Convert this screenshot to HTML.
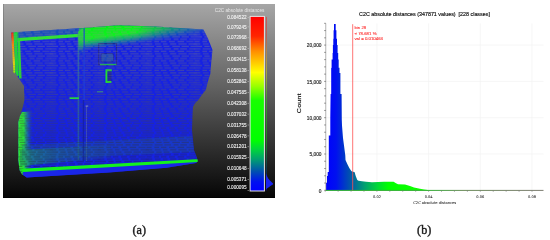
<!DOCTYPE html>
<html><head><meta charset="utf-8"><title>C2C absolute distances</title>
<style>html,body{margin:0;padding:0;background:#fff;width:550px;height:240px;overflow:hidden}svg{display:block}</style>
</head><body><svg width="550" height="240" viewBox="0 0 550 240"><defs><linearGradient id="bgA" x1="0" y1="0" x2="0" y2="1"><stop offset="0" stop-color="#a6a6a6"/><stop offset="1" stop-color="#050505"/></linearGradient><linearGradient id="cbar" x1="0" y1="1" x2="0" y2="0"><stop offset="0" stop-color="#0000ff"/><stop offset="0.05" stop-color="#0010f0"/><stop offset="0.11" stop-color="#0050b0"/><stop offset="0.18" stop-color="#00a070"/><stop offset="0.24" stop-color="#00d838"/><stop offset="0.29" stop-color="#00ff00"/><stop offset="0.52" stop-color="#18ff00"/><stop offset="0.6" stop-color="#98ff00"/><stop offset="0.68" stop-color="#ffff00"/><stop offset="0.8" stop-color="#ff9000"/><stop offset="0.89" stop-color="#ff2400"/><stop offset="1" stop-color="#ff0000"/></linearGradient><linearGradient id="hgrad" gradientUnits="userSpaceOnUse" x1="325.2" y1="0" x2="543.5" y2="0"><stop offset="0" stop-color="#0000ff"/><stop offset="0.05" stop-color="#0010f0"/><stop offset="0.11" stop-color="#0050b0"/><stop offset="0.18" stop-color="#00a070"/><stop offset="0.24" stop-color="#00d838"/><stop offset="0.29" stop-color="#00ff00"/><stop offset="0.52" stop-color="#18ff00"/><stop offset="0.6" stop-color="#98ff00"/><stop offset="0.68" stop-color="#ffff00"/><stop offset="0.8" stop-color="#ff9000"/><stop offset="0.89" stop-color="#ff2400"/><stop offset="1" stop-color="#ff0000"/></linearGradient><linearGradient id="topg" gradientUnits="userSpaceOnUse" x1="100" y1="22" x2="103.81" y2="51.76"><stop offset="0" stop-color="#00f010"/><stop offset="0.5" stop-color="#10f020"/><stop offset="0.65" stop-color="#10c060" stop-opacity="0.85"/><stop offset="0.78" stop-color="#1080a0" stop-opacity="0.5"/><stop offset="0.9" stop-color="#1a3ad8" stop-opacity="0"/></linearGradient><linearGradient id="topmaskg" gradientUnits="userSpaceOnUse" x1="135" y1="0" x2="205" y2="0"><stop offset="0" stop-color="#fff"/><stop offset="0.5" stop-color="#fff" stop-opacity="0.6"/><stop offset="1" stop-color="#fff" stop-opacity="0.3"/></linearGradient><mask id="topmask" maskUnits="userSpaceOnUse" x="0" y="0" width="550" height="240"><rect x="0" y="0" width="550" height="240" fill="url(#topmaskg)"/></mask><linearGradient id="leftstrip" x1="0" y1="0" x2="0" y2="1"><stop offset="0" stop-color="#ff2000"/><stop offset="0.3" stop-color="#ff8800"/><stop offset="0.75" stop-color="#f0e000"/><stop offset="1" stop-color="#90f000"/></linearGradient><linearGradient id="lowleft" gradientUnits="userSpaceOnUse" x1="18" y1="0" x2="33" y2="0"><stop offset="0" stop-color="#30f030"/><stop offset="0.38" stop-color="#28d840"/><stop offset="0.62" stop-color="#20a070" stop-opacity="0.6"/><stop offset="1" stop-color="#1a3ad8" stop-opacity="0"/></linearGradient><linearGradient id="lowband" gradientUnits="userSpaceOnUse" x1="20" y1="0" x2="110" y2="0"><stop offset="0" stop-color="#20b060" stop-opacity="0.7"/><stop offset="0.4" stop-color="#1a8080" stop-opacity="0.45"/><stop offset="1" stop-color="#1a5a9a" stop-opacity="0.2"/></linearGradient><pattern id="tex" patternUnits="userSpaceOnUse" width="48" height="9.6"><rect width="48" height="9.6" fill="#ffffff"/><rect x="1.81" y="0.30" width="6.74" height="1.15" fill="#aaaaaa"/><rect x="-46.19" y="0.30" width="6.74" height="1.15" fill="#aaaaaa"/><rect x="10.73" y="0.30" width="7.92" height="1.15" fill="#a2a2a2"/><rect x="-37.27" y="0.30" width="7.92" height="1.15" fill="#a2a2a2"/><rect x="20.42" y="0.30" width="6.55" height="1.15" fill="#9e9e9e"/><rect x="-27.58" y="0.30" width="6.55" height="1.15" fill="#9e9e9e"/><rect x="29.66" y="0.30" width="4.88" height="1.15" fill="#929292"/><rect x="-18.34" y="0.30" width="4.88" height="1.15" fill="#929292"/><rect x="36.25" y="0.30" width="6.65" height="1.15" fill="#9a9a9a"/><rect x="-11.75" y="0.30" width="6.65" height="1.15" fill="#9a9a9a"/><rect x="45.30" y="0.30" width="6.08" height="1.15" fill="#aaaaaa"/><rect x="-2.70" y="0.30" width="6.08" height="1.15" fill="#aaaaaa"/><rect x="2.46" y="2.70" width="5.13" height="1.15" fill="#9a9a9a"/><rect x="-45.54" y="2.70" width="5.13" height="1.15" fill="#9a9a9a"/><rect x="10.34" y="2.70" width="4.75" height="1.15" fill="#9a9a9a"/><rect x="-37.66" y="2.70" width="4.75" height="1.15" fill="#9a9a9a"/><rect x="16.88" y="2.70" width="5.47" height="1.15" fill="#9a9a9a"/><rect x="-31.12" y="2.70" width="5.47" height="1.15" fill="#9a9a9a"/><rect x="25.01" y="2.70" width="5.81" height="1.15" fill="#9e9e9e"/><rect x="-22.99" y="2.70" width="5.81" height="1.15" fill="#9e9e9e"/><rect x="33.58" y="2.70" width="6.58" height="1.15" fill="#929292"/><rect x="-14.42" y="2.70" width="6.58" height="1.15" fill="#929292"/><rect x="42.41" y="2.70" width="7.15" height="1.15" fill="#aaaaaa"/><rect x="-5.59" y="2.70" width="7.15" height="1.15" fill="#aaaaaa"/><rect x="1.63" y="5.10" width="6.71" height="1.15" fill="#9a9a9a"/><rect x="-46.37" y="5.10" width="6.71" height="1.15" fill="#9a9a9a"/><rect x="10.89" y="5.10" width="5.76" height="1.15" fill="#a2a2a2"/><rect x="-37.11" y="5.10" width="5.76" height="1.15" fill="#a2a2a2"/><rect x="18.92" y="5.10" width="4.62" height="1.15" fill="#9e9e9e"/><rect x="-29.08" y="5.10" width="4.62" height="1.15" fill="#9e9e9e"/><rect x="26.19" y="5.10" width="6.10" height="1.15" fill="#929292"/><rect x="-21.81" y="5.10" width="6.10" height="1.15" fill="#929292"/><rect x="34.37" y="5.10" width="8.33" height="1.15" fill="#9a9a9a"/><rect x="-13.63" y="5.10" width="8.33" height="1.15" fill="#9a9a9a"/><rect x="44.53" y="5.10" width="8.21" height="1.15" fill="#9a9a9a"/><rect x="-3.47" y="5.10" width="8.21" height="1.15" fill="#9a9a9a"/><rect x="3.92" y="7.50" width="6.09" height="1.15" fill="#9a9a9a"/><rect x="-44.08" y="7.50" width="6.09" height="1.15" fill="#9a9a9a"/><rect x="12.36" y="7.50" width="5.29" height="1.15" fill="#929292"/><rect x="-35.64" y="7.50" width="5.29" height="1.15" fill="#929292"/><rect x="19.66" y="7.50" width="5.74" height="1.15" fill="#9a9a9a"/><rect x="-28.34" y="7.50" width="5.74" height="1.15" fill="#9a9a9a"/><rect x="28.35" y="7.50" width="7.53" height="1.15" fill="#9a9a9a"/><rect x="-19.65" y="7.50" width="7.53" height="1.15" fill="#9a9a9a"/><rect x="37.58" y="7.50" width="7.33" height="1.15" fill="#9a9a9a"/><rect x="-10.42" y="7.50" width="7.33" height="1.15" fill="#9a9a9a"/><rect x="46.50" y="7.50" width="7.69" height="1.15" fill="#a2a2a2"/><rect x="-1.50" y="7.50" width="7.69" height="1.15" fill="#a2a2a2"/></pattern></defs><rect x="3" y="4" width="272" height="194" fill="url(#bgA)"/><rect x="3" y="197.3" width="272" height="0.7" fill="#000"/><rect x="3" y="4" width="0.9" height="194" fill="#000" opacity="0.18"/><mask id="texmask" maskUnits="userSpaceOnUse" x="0" y="0" width="550" height="240"><rect x="0" y="0" width="550" height="240" fill="url(#tex)"/></mask><g mask="url(#texmask)"><polygon points="11.2,32.4 83.0,28.0 118.0,25.3 156.0,26.5 203.5,29.5 208.0,38.5 212.5,50.0 211.0,65.0 210.3,74.0 208.3,80.0 205.8,90.0 201.7,95.0 198.3,100.0 195.0,103.3 193.0,106.7 192.5,115.0 192.0,130.0 194.0,150.0 197.0,157.5 197.5,161.0 196.0,163.0 166.5,167.8 110.0,172.3 26.7,177.5 22.0,174.5 19.5,170.0 18.3,160.0 18.3,122.0 20.0,117.0 22.0,110.0 24.5,100.0 24.0,86.0 16.2,74.5 14.0,70.0 12.5,50.0" fill="#1622e2"/><polygon points="79,28.3 83,28 118,25.3 156,26.5 203.5,29.5 208,38.5 211,56 79,56" fill="url(#topg)" mask="url(#topmask)"/><polygon points="17,32 83,28 83,34 17,38.5" fill="#1c70a0" opacity="0.55"/><polygon points="11.2,32.4 13.7,32.2 15.6,72.2 14.6,73.4 13.4,72.6" fill="url(#leftstrip)"/><polygon points="13.5,32.2 17.0,32.0 18.6,75.5 17.5,76.5 16.2,74.6 15.4,72.2" fill="#18d838"/><polygon points="17.0,32.0 18.4,32.0 19.7,78 18.6,75.5" fill="#20c050" opacity="0.9"/><polygon points="17.6,38.0 83.5,33.4 83.5,36.7 17.6,41.2" fill="#20ee28"/><polygon points="17.6,38.0 20.0,38.0 21.6,78.6 19.2,78.6" fill="#20e030"/><rect x="77.6" y="34" width="1.6" height="126" fill="#2a80a0" opacity="0.6"/><linearGradient id="frg" x1="0" y1="0" x2="0" y2="1"><stop offset="0" stop-color="#20e030"/><stop offset="0.4" stop-color="#20d040"/><stop offset="1" stop-color="#1a60b0" stop-opacity="0"/></linearGradient><polygon points="78.2,31.6 83.4,28.2 83.4,56 78.2,56" fill="url(#frg)"/><rect x="86.0" y="106" width="1" height="55" fill="#6078c0" opacity="0.5"/><rect x="85.6" y="105.5" width="2.6" height="1.2" fill="#c0c8e0" opacity="0.6"/><rect x="101" y="53.5" width="12.5" height="8.5" rx="1.5" fill="#2a6aa0" opacity="0.55" stroke="#18207a" stroke-width="0.9"/><rect x="98.7" y="43.6" width="17.8" height="21.2" fill="none" stroke="#1a1e88" stroke-width="1.1" opacity="0.8"/><rect x="100" y="63.8" width="16.4" height="1.4" fill="#20c050" opacity="0.9"/><rect x="107.5" y="71" width="4" height="10.5" fill="#1a2090" opacity="0.8"/><path d="M111.8,70.2 H106.4 V82 H111.4" fill="none" stroke="#20e030" stroke-width="1.9"/><rect x="69.5" y="97.3" width="9.5" height="1.7" fill="#20e040"/><rect x="97" y="91" width="6" height="1.4" fill="#2a90a0" opacity="0.8"/><polygon points="18.3,122 20,116 22,112 40,111 40,174 22,174.5 19.5,170 18.3,160" fill="url(#lowleft)"/><polygon points="20,150 110,145 110,158 20,166" fill="url(#lowband)"/><polygon points="22,145 192,136 194,152 22,160" fill="#1d6a90" opacity="0.3"/></g><rect x="83.4" y="28" width="1.5" height="72" fill="#2040d8" opacity="0.75"/><rect x="82.8" y="100" width="1.3" height="61" fill="#101c90" opacity="0.55"/><polygon points="22.5,171.8 197.6,161.4 196,163 166.5,167.8 110,172.4 26.7,177.5 23.5,175" fill="#1a26e8"/><polygon points="21,168.8 100,164.4 196,159.2 197.8,159.6 197.6,162.1 100,167.8 22.5,171.9" fill="#14f020"/><rect x="249.6" y="15.9" width="15.3" height="175.6" fill="#e4e4e4"/><rect x="250.6" y="16.9" width="13.3" height="173.6" fill="url(#cbar)"/><rect x="265.9" y="16.9" width="0.8" height="173.6" fill="url(#cbar)" opacity="0.55"/><path d="M266,173.5 C267,177 269,180 272,182.5 C273.5,183.6 273.5,184.2 272,185 C270,186.3 267.5,188 266,189.5 Z" fill="#1822f0"/><text x="239.6" y="12.0" font-family="'Liberation Sans', Arial, sans-serif" font-size="4.7" fill="#e6e6e6" text-anchor="middle">C2C absolute distances</text><text x="246.6" y="19.10" font-family="'Liberation Sans', Arial, sans-serif" font-size="4.65" fill="#f4f4f4" stroke="#f4f4f4" stroke-width="0.1" text-anchor="end">0.084522</text><rect x="247.6" y="17.20" width="1.2" height="0.6" fill="#cccccc"/><text x="246.6" y="28.50" font-family="'Liberation Sans', Arial, sans-serif" font-size="4.65" fill="#f4f4f4" stroke="#f4f4f4" stroke-width="0.1" text-anchor="end">0.079245</text><rect x="247.6" y="26.60" width="1.2" height="0.6" fill="#cccccc"/><text x="246.6" y="39.40" font-family="'Liberation Sans', Arial, sans-serif" font-size="4.65" fill="#f4f4f4" stroke="#f4f4f4" stroke-width="0.1" text-anchor="end">0.073968</text><rect x="247.6" y="37.50" width="1.2" height="0.6" fill="#cccccc"/><text x="246.6" y="50.30" font-family="'Liberation Sans', Arial, sans-serif" font-size="4.65" fill="#f4f4f4" stroke="#f4f4f4" stroke-width="0.1" text-anchor="end">0.068692</text><rect x="247.6" y="48.40" width="1.2" height="0.6" fill="#cccccc"/><text x="246.6" y="61.20" font-family="'Liberation Sans', Arial, sans-serif" font-size="4.65" fill="#f4f4f4" stroke="#f4f4f4" stroke-width="0.1" text-anchor="end">0.063415</text><rect x="247.6" y="59.30" width="1.2" height="0.6" fill="#cccccc"/><text x="246.6" y="72.10" font-family="'Liberation Sans', Arial, sans-serif" font-size="4.65" fill="#f4f4f4" stroke="#f4f4f4" stroke-width="0.1" text-anchor="end">0.058138</text><rect x="247.6" y="70.20" width="1.2" height="0.6" fill="#cccccc"/><text x="246.6" y="83.00" font-family="'Liberation Sans', Arial, sans-serif" font-size="4.65" fill="#f4f4f4" stroke="#f4f4f4" stroke-width="0.1" text-anchor="end">0.052862</text><rect x="247.6" y="81.10" width="1.2" height="0.6" fill="#cccccc"/><text x="246.6" y="93.90" font-family="'Liberation Sans', Arial, sans-serif" font-size="4.65" fill="#f4f4f4" stroke="#f4f4f4" stroke-width="0.1" text-anchor="end">0.047585</text><rect x="247.6" y="92.00" width="1.2" height="0.6" fill="#cccccc"/><text x="246.6" y="104.80" font-family="'Liberation Sans', Arial, sans-serif" font-size="4.65" fill="#f4f4f4" stroke="#f4f4f4" stroke-width="0.1" text-anchor="end">0.042308</text><rect x="247.6" y="102.90" width="1.2" height="0.6" fill="#cccccc"/><text x="246.6" y="115.70" font-family="'Liberation Sans', Arial, sans-serif" font-size="4.65" fill="#f4f4f4" stroke="#f4f4f4" stroke-width="0.1" text-anchor="end">0.037032</text><rect x="247.6" y="113.80" width="1.2" height="0.6" fill="#cccccc"/><text x="246.6" y="126.60" font-family="'Liberation Sans', Arial, sans-serif" font-size="4.65" fill="#f4f4f4" stroke="#f4f4f4" stroke-width="0.1" text-anchor="end">0.031755</text><rect x="247.6" y="124.70" width="1.2" height="0.6" fill="#cccccc"/><text x="246.6" y="137.50" font-family="'Liberation Sans', Arial, sans-serif" font-size="4.65" fill="#f4f4f4" stroke="#f4f4f4" stroke-width="0.1" text-anchor="end">0.026478</text><rect x="247.6" y="135.60" width="1.2" height="0.6" fill="#cccccc"/><text x="246.6" y="148.40" font-family="'Liberation Sans', Arial, sans-serif" font-size="4.65" fill="#f4f4f4" stroke="#f4f4f4" stroke-width="0.1" text-anchor="end">0.021201</text><rect x="247.6" y="146.50" width="1.2" height="0.6" fill="#cccccc"/><text x="246.6" y="159.30" font-family="'Liberation Sans', Arial, sans-serif" font-size="4.65" fill="#f4f4f4" stroke="#f4f4f4" stroke-width="0.1" text-anchor="end">0.015925</text><rect x="247.6" y="157.40" width="1.2" height="0.6" fill="#cccccc"/><text x="246.6" y="170.20" font-family="'Liberation Sans', Arial, sans-serif" font-size="4.65" fill="#f4f4f4" stroke="#f4f4f4" stroke-width="0.1" text-anchor="end">0.010648</text><rect x="247.6" y="168.30" width="1.2" height="0.6" fill="#cccccc"/><text x="246.6" y="181.10" font-family="'Liberation Sans', Arial, sans-serif" font-size="4.65" fill="#f4f4f4" stroke="#f4f4f4" stroke-width="0.1" text-anchor="end">0.005371</text><rect x="247.6" y="179.20" width="1.2" height="0.6" fill="#cccccc"/><text x="246.6" y="188.90" font-family="'Liberation Sans', Arial, sans-serif" font-size="4.65" fill="#f4f4f4" stroke="#f4f4f4" stroke-width="0.1" text-anchor="end">0.000095</text><rect x="247.6" y="190.2" width="1.2" height="0.6" fill="#cccccc"/><line x1="325.5" y1="45.1" x2="543.5" y2="45.1" stroke="#f2f2f2" stroke-width="0.7"/><line x1="325.5" y1="81.4" x2="543.5" y2="81.4" stroke="#f2f2f2" stroke-width="0.7"/><line x1="325.5" y1="117.7" x2="543.5" y2="117.7" stroke="#f2f2f2" stroke-width="0.7"/><line x1="325.5" y1="154.0" x2="543.5" y2="154.0" stroke="#f2f2f2" stroke-width="0.7"/><line x1="377.0" y1="23.4" x2="377.0" y2="190.3" stroke="#f2f2f2" stroke-width="0.7"/><line x1="428.6" y1="23.4" x2="428.6" y2="190.3" stroke="#f2f2f2" stroke-width="0.7"/><line x1="480.3" y1="23.4" x2="480.3" y2="190.3" stroke="#f2f2f2" stroke-width="0.7"/><line x1="532.0" y1="23.4" x2="532.0" y2="190.3" stroke="#f2f2f2" stroke-width="0.7"/><polygon points="326.0,190.4 326.0,182.7 327.0,182.7 327.0,176.0 327.7,176.0 327.7,172.0 328.8,172.0 328.8,155.5 328.8,135.5 330.3,135.5 330.3,118.0 330.6,94.0 331.2,94.0 331.2,68.0 331.6,67.8 331.6,59.5 332.6,59.5 332.6,53.0 332.9,53.0 332.9,45.0 333.3,45.0 333.3,38.7 333.6,38.7 333.6,30.3 334.0,30.3 334.0,24.1 335.7,24.1 335.7,30.3 336.4,30.3 336.4,38.7 337.0,38.7 337.0,45.0 337.6,45.0 337.6,53.0 338.2,53.0 338.2,59.5 338.7,59.5 338.7,67.8 339.5,67.8 339.5,73.0 340.4,73.0 340.4,94.0 341.6,94.0 341.8,120.0 342.0,125.5 343.0,138.0 344.0,145.5 345.3,155.5 345.5,160.0 347.3,164.0 349.3,168.0 351.5,171.2 353.2,171.7 354.7,172.3 355.4,175.0 356.0,176.7 357.3,180.0 358.5,180.8 362.0,181.3 366.0,181.8 372.0,182.2 378.0,182.1 384.0,181.8 393.6,181.8 396.0,183.2 398.0,184.3 405.0,184.6 410.0,186.0 414.0,187.4 420.0,188.8 424.0,189.6 430.0,190.2 430.0,190.4" fill="url(#hgrad)"/><line x1="325.75" y1="23.4" x2="325.75" y2="190.6" stroke="#a0a0a0" stroke-width="0.8"/><linearGradient id="axg" gradientUnits="userSpaceOnUse" x1="420" y1="0" x2="543.5" y2="0"><stop offset="0" stop-color="#30b030"/><stop offset="0.12" stop-color="#3aa83a"/><stop offset="0.35" stop-color="#6a8a58"/><stop offset="1" stop-color="#7c7c70"/></linearGradient><line x1="325.5" y1="190.4" x2="543.5" y2="190.4" stroke="url(#axg)" stroke-width="1.0"/><line x1="324.2" y1="190.30" x2="325.8" y2="190.30" stroke="#606060" stroke-width="0.7"/><line x1="324.2" y1="183.04" x2="325.8" y2="183.04" stroke="#606060" stroke-width="0.7"/><line x1="324.2" y1="175.78" x2="325.8" y2="175.78" stroke="#606060" stroke-width="0.7"/><line x1="324.2" y1="168.52" x2="325.8" y2="168.52" stroke="#606060" stroke-width="0.7"/><line x1="324.2" y1="161.26" x2="325.8" y2="161.26" stroke="#606060" stroke-width="0.7"/><line x1="324.2" y1="154.00" x2="325.8" y2="154.00" stroke="#606060" stroke-width="0.7"/><line x1="324.2" y1="146.74" x2="325.8" y2="146.74" stroke="#606060" stroke-width="0.7"/><line x1="324.2" y1="139.48" x2="325.8" y2="139.48" stroke="#606060" stroke-width="0.7"/><line x1="324.2" y1="132.22" x2="325.8" y2="132.22" stroke="#606060" stroke-width="0.7"/><line x1="324.2" y1="124.96" x2="325.8" y2="124.96" stroke="#606060" stroke-width="0.7"/><line x1="324.2" y1="117.70" x2="325.8" y2="117.70" stroke="#606060" stroke-width="0.7"/><line x1="324.2" y1="110.44" x2="325.8" y2="110.44" stroke="#606060" stroke-width="0.7"/><line x1="324.2" y1="103.18" x2="325.8" y2="103.18" stroke="#606060" stroke-width="0.7"/><line x1="324.2" y1="95.92" x2="325.8" y2="95.92" stroke="#606060" stroke-width="0.7"/><line x1="324.2" y1="88.66" x2="325.8" y2="88.66" stroke="#606060" stroke-width="0.7"/><line x1="324.2" y1="81.40" x2="325.8" y2="81.40" stroke="#606060" stroke-width="0.7"/><line x1="324.2" y1="74.14" x2="325.8" y2="74.14" stroke="#606060" stroke-width="0.7"/><line x1="324.2" y1="66.88" x2="325.8" y2="66.88" stroke="#606060" stroke-width="0.7"/><line x1="324.2" y1="59.62" x2="325.8" y2="59.62" stroke="#606060" stroke-width="0.7"/><line x1="324.2" y1="52.36" x2="325.8" y2="52.36" stroke="#606060" stroke-width="0.7"/><line x1="324.2" y1="45.10" x2="325.8" y2="45.10" stroke="#606060" stroke-width="0.7"/><line x1="324.2" y1="37.84" x2="325.8" y2="37.84" stroke="#606060" stroke-width="0.7"/><line x1="324.2" y1="30.58" x2="325.8" y2="30.58" stroke="#606060" stroke-width="0.7"/><line x1="324.2" y1="23.32" x2="325.8" y2="23.32" stroke="#606060" stroke-width="0.7"/><line x1="325.20" y1="190.5" x2="325.20" y2="191.8" stroke="#777" stroke-width="0.6"/><line x1="338.12" y1="190.5" x2="338.12" y2="191.8" stroke="#777" stroke-width="0.6"/><line x1="351.05" y1="190.5" x2="351.05" y2="191.8" stroke="#777" stroke-width="0.6"/><line x1="363.98" y1="190.5" x2="363.98" y2="191.8" stroke="#777" stroke-width="0.6"/><line x1="376.90" y1="190.5" x2="376.90" y2="191.8" stroke="#777" stroke-width="0.6"/><line x1="389.82" y1="190.5" x2="389.82" y2="191.8" stroke="#777" stroke-width="0.6"/><line x1="402.75" y1="190.5" x2="402.75" y2="191.8" stroke="#777" stroke-width="0.6"/><line x1="415.68" y1="190.5" x2="415.68" y2="191.8" stroke="#777" stroke-width="0.6"/><line x1="428.60" y1="190.5" x2="428.60" y2="191.8" stroke="#777" stroke-width="0.6"/><line x1="441.52" y1="190.5" x2="441.52" y2="191.8" stroke="#777" stroke-width="0.6"/><line x1="454.45" y1="190.5" x2="454.45" y2="191.8" stroke="#777" stroke-width="0.6"/><line x1="467.38" y1="190.5" x2="467.38" y2="191.8" stroke="#777" stroke-width="0.6"/><line x1="480.30" y1="190.5" x2="480.30" y2="191.8" stroke="#777" stroke-width="0.6"/><line x1="493.23" y1="190.5" x2="493.23" y2="191.8" stroke="#777" stroke-width="0.6"/><line x1="506.15" y1="190.5" x2="506.15" y2="191.8" stroke="#777" stroke-width="0.6"/><line x1="519.08" y1="190.5" x2="519.08" y2="191.8" stroke="#777" stroke-width="0.6"/><line x1="532.00" y1="190.5" x2="532.00" y2="191.8" stroke="#777" stroke-width="0.6"/><line x1="352.7" y1="24.2" x2="352.7" y2="190.3" stroke="#ff5050" stroke-width="0.8"/><text x="354.4" y="29.45" font-family="'Liberation Sans', Arial, sans-serif" font-size="4.35" fill="#ff2a2a" stroke="#ff2a2a" stroke-width="0.1">bin 28</text><text x="354.4" y="34.75" font-family="'Liberation Sans', Arial, sans-serif" font-size="4.35" fill="#ff2a2a" stroke="#ff2a2a" stroke-width="0.1">&lt; 78.681 %</text><text x="354.4" y="40.05" font-family="'Liberation Sans', Arial, sans-serif" font-size="4.35" fill="#ff2a2a" stroke="#ff2a2a" stroke-width="0.1">val = 0.010463</text><text x="321.5" y="192.50" font-family="'Liberation Sans', Arial, sans-serif" font-size="4.8" fill="#2a2a2a" stroke="#2a2a2a" stroke-width="0.16" text-anchor="end">0</text><text x="321.5" y="156.20" font-family="'Liberation Sans', Arial, sans-serif" font-size="4.8" fill="#2a2a2a" stroke="#2a2a2a" stroke-width="0.16" text-anchor="end">5,000</text><text x="321.5" y="119.90" font-family="'Liberation Sans', Arial, sans-serif" font-size="4.8" fill="#2a2a2a" stroke="#2a2a2a" stroke-width="0.16" text-anchor="end">10,000</text><text x="321.5" y="83.60" font-family="'Liberation Sans', Arial, sans-serif" font-size="4.8" fill="#2a2a2a" stroke="#2a2a2a" stroke-width="0.16" text-anchor="end">15,000</text><text x="321.5" y="47.30" font-family="'Liberation Sans', Arial, sans-serif" font-size="4.8" fill="#2a2a2a" stroke="#2a2a2a" stroke-width="0.16" text-anchor="end">20,000</text><text x="377.0" y="197.5" font-family="'DejaVu Sans', 'Liberation Sans', sans-serif" font-size="3.55" fill="#333" stroke="#333" stroke-width="0.08" text-anchor="middle">0.02</text><text x="428.6" y="197.5" font-family="'DejaVu Sans', 'Liberation Sans', sans-serif" font-size="3.55" fill="#333" stroke="#333" stroke-width="0.08" text-anchor="middle">0.04</text><text x="480.3" y="197.5" font-family="'DejaVu Sans', 'Liberation Sans', sans-serif" font-size="3.55" fill="#333" stroke="#333" stroke-width="0.08" text-anchor="middle">0.06</text><text x="532.0" y="197.5" font-family="'DejaVu Sans', 'Liberation Sans', sans-serif" font-size="3.55" fill="#333" stroke="#333" stroke-width="0.08" text-anchor="middle">0.08</text><text x="434.7" y="204.0" font-family="'DejaVu Sans', 'Liberation Sans', sans-serif" font-size="3.67" fill="#333" stroke="#333" stroke-width="0.08" text-anchor="middle">C2C absolute distances</text><text x="359.1" y="15.9" font-family="'Liberation Sans', Arial, sans-serif" font-size="5.36" fill="#111" stroke="#111" stroke-width="0.16">C2C absolute distances (347871 values)&#160;&#160;[228 classes]</text><text transform="translate(300.5,103.2) rotate(-90) scale(1,0.88)" font-family="'Liberation Sans', Arial, sans-serif" font-size="7.0" fill="#1a1a1a" stroke="#1a1a1a" stroke-width="0.22" letter-spacing="0.25" text-anchor="middle">Count</text><text x="139.2" y="234.4" font-family="'Liberation Serif', 'Times New Roman', serif" font-size="12.2" fill="#1a1a1a" stroke="#1a1a1a" stroke-width="0.38" text-anchor="middle">(a)</text><text x="424.2" y="234.4" font-family="'Liberation Serif', 'Times New Roman', serif" font-size="12.2" fill="#1a1a1a" stroke="#1a1a1a" stroke-width="0.38" text-anchor="middle">(b)</text></svg></body></html>
